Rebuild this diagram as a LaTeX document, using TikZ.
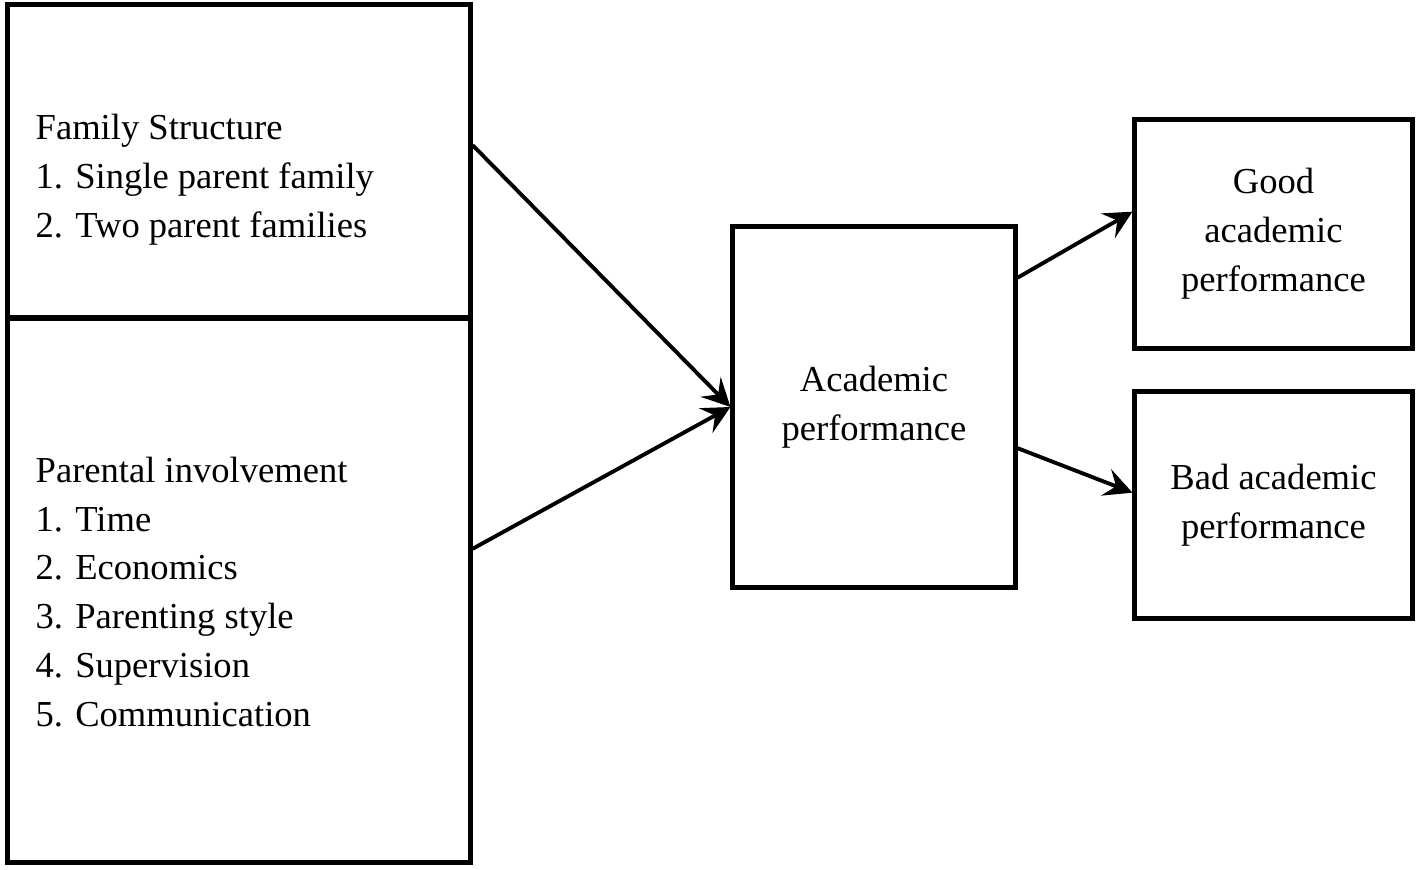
\documentclass[tikz,border=0pt]{standalone}
\usepackage{fontspec}
\setmainfont{Liberation Serif}
\usetikzlibrary{arrows.meta,positioning}

\begin{document}
\begin{tikzpicture}[x=0.01cm, y=-0.01cm,
  every node/.style={font=\fontsize{10.4}{13.9}\selectfont},
  bx/.style={draw, line width=1.4pt, inner sep=0pt},
  txt/.style={align=left, anchor=west, inner sep=0pt},
  arr/.style={-{Stealth[length=8pt, width=8pt, inset=3pt]}, line width=1.1pt}]
\useasboundingbox (0,0) rectangle (1417,870);
% Left boxes
\node[bx, minimum width=4.62cm, minimum height=3.13cm] (fam) at (239,161.5) {};
\node[bx, minimum width=4.62cm, minimum height=5.44cm] (par) at (239,590) {};
\node[txt] (famtxt) at (35,180) {Family Structure\\1. Single parent family\\2. Two parent families};
\node[txt] (partxt) at (35,592) {Parental involvement\\1. Time\\2. Economics\\3. Parenting style\\4. Supervision\\5. Communication};
% Middle and outcome boxes
\node[bx, minimum width=2.82cm, minimum height=3.6cm, align=center] (mid) at (874,407) {Academic\\performance};
\node[bx, minimum width=2.77cm, minimum height=2.28cm, align=center] (good) at (1273.5,234) {Good\\academic\\performance};
\node[bx, minimum width=2.77cm, minimum height=2.26cm, align=center] (bad) at (1273.5,505) {Bad academic\\performance};
% Arrows
\draw[arr] (fam.4) -- (mid.west);
\draw[arr] (par.10) -- (mid.west);
\draw[arr] (mid.42) -- (good.171);
\draw[arr] (mid.-16) -- (bad.175);
\end{tikzpicture}
\end{document}
